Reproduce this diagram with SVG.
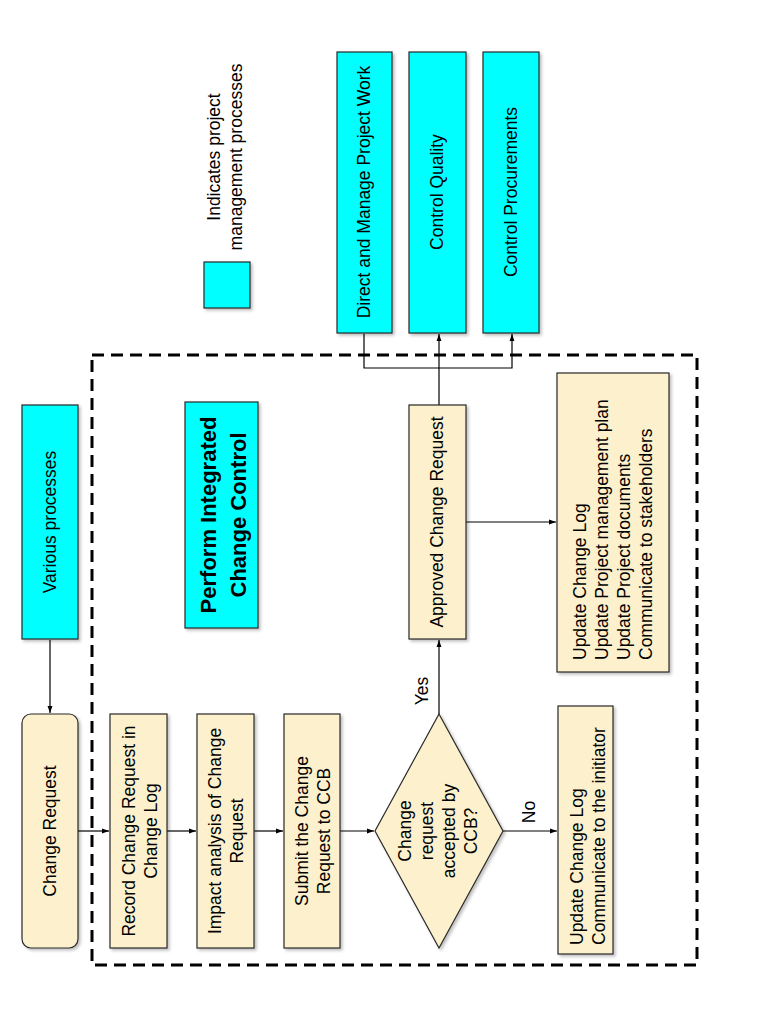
<svg xmlns="http://www.w3.org/2000/svg" width="768" height="1024" viewBox="0 0 768 1024">
<style>
.t{font-family:"Liberation Sans",Arial,sans-serif;font-size:17.5px;fill:#000}
.b{font-family:"Liberation Sans",Arial,sans-serif;font-size:22px;font-weight:bold;fill:#000}
.cream{fill:#FCF0CD;stroke:#2a2a2a;stroke-width:1.2}
.cyan{fill:#00FFFF;stroke:#2a2a2a;stroke-width:1.2}
.ln{fill:none;stroke:#000;stroke-width:1.2}
.border{fill:none;stroke:#000;stroke-width:3;stroke-dasharray:12 7}
</style>
<defs>
<filter id="sh" x="-10%" y="-10%" width="130%" height="130%">
<feDropShadow dx="2" dy="2" stdDeviation="1.5" flood-color="#000" flood-opacity="0.25"/>
</filter>
<marker id="ar" viewBox="0 0 10 10" refX="10" refY="5" markerWidth="7" markerHeight="7" orient="auto" markerUnits="userSpaceOnUse">
<path d="M0,1.5 L10,5 L0,8.5 z" fill="#000"/>
</marker>
</defs>
<rect width="768" height="1024" fill="#fff"/>
<rect class="border" x="92" y="355" width="605" height="610"/>

<g id="connectors">
<line class="ln" x1="50" y1="640" x2="50" y2="713" marker-end="url(#ar)"/>
<line class="ln" x1="78" y1="831" x2="109" y2="831" marker-end="url(#ar)"/>
<line class="ln" x1="167" y1="831" x2="196" y2="831" marker-end="url(#ar)"/>
<line class="ln" x1="254" y1="831" x2="283" y2="831" marker-end="url(#ar)"/>
<line class="ln" x1="340" y1="831" x2="374" y2="831" marker-end="url(#ar)"/>
<line class="ln" x1="503" y1="831" x2="557" y2="831" marker-end="url(#ar)"/>
<line class="ln" x1="439" y1="714" x2="439" y2="640" marker-end="url(#ar)"/>
<line class="ln" x1="466" y1="522" x2="556" y2="522" marker-end="url(#ar)"/>
<line class="ln" x1="439" y1="405" x2="439" y2="334" marker-end="url(#ar)"/>
<polyline class="ln" points="364,334 364,368 512,368 512,334" marker-start="url(#ar)" marker-end="url(#ar)"/>
<text class="t" transform="rotate(-90)" x="-691" y="428" text-anchor="middle">Yes</text>
<text class="t" transform="rotate(-90)" x="-812" y="535" text-anchor="middle">No</text>
</g>

<g id="change-request">
<rect class="cream" x="22" y="714" width="56" height="234" rx="9" filter="url(#sh)"/>
<text class="t" transform="rotate(-90)" x="-831" y="56" text-anchor="middle">Change Request</text>
</g>
<g id="various-processes">
<rect class="cyan" x="22" y="405" width="56" height="234" filter="url(#sh)"/>
<text class="t" transform="rotate(-90)" x="-522" y="56" text-anchor="middle">Various processes</text>
</g>
<g id="record">
<rect class="cream" x="110" y="714" width="57" height="234" filter="url(#sh)"/>
<text class="t" transform="rotate(-90)" text-anchor="middle"><tspan x="-831" y="135">Record Change Request in</tspan><tspan x="-831" y="157">Change Log</tspan></text>
</g>
<g id="impact">
<rect class="cream" x="197" y="714" width="57" height="234" filter="url(#sh)"/>
<text class="t" transform="rotate(-90)" text-anchor="middle"><tspan x="-831" y="221">Impact analysis of Change</tspan><tspan x="-831" y="243">Request</tspan></text>
</g>
<g id="submit">
<rect class="cream" x="284" y="714" width="56" height="234" filter="url(#sh)"/>
<text class="t" transform="rotate(-90)" text-anchor="middle"><tspan x="-831" y="308">Submit the Change</tspan><tspan x="-831" y="330">Request to CCB</tspan></text>
</g>
<g id="decision">
<polygon class="cream" points="439,714 503,831 439,948 375,831" filter="url(#sh)"/>
<text class="t" transform="rotate(-90)" text-anchor="middle"><tspan x="-831" y="411">Change</tspan><tspan x="-831" y="433">request</tspan><tspan x="-831" y="455">accepted by</tspan><tspan x="-831" y="477">CCB?</tspan></text>
</g>
<g id="reject-actions">
<rect class="cream" x="558" y="706" width="55" height="248" filter="url(#sh)"/>
<text class="t" transform="rotate(-90)" text-anchor="start"><tspan x="-945" y="583">Update Change Log</tspan><tspan x="-945" y="605">Communicate to the initiator</tspan></text>
</g>
<g id="approved">
<rect class="cream" x="409" y="405" width="57" height="234" filter="url(#sh)"/>
<text class="t" transform="rotate(-90)" x="-522" y="443" text-anchor="middle">Approved Change Request</text>
</g>
<g id="approve-actions">
<rect class="cream" x="557" y="373" width="112" height="299" filter="url(#sh)"/>
<text class="t" transform="rotate(-90)" text-anchor="start"><tspan x="-660" y="586">Update Change Log</tspan><tspan x="-660" y="608">Update Project management plan</tspan><tspan x="-660" y="630">Update Project documents</tspan><tspan x="-660" y="652">Communicate to stakeholders</tspan></text>
</g>
<g id="title">
<rect class="cyan" x="185" y="402" width="73" height="226" filter="url(#sh)"/>
<text class="b" transform="rotate(-90)" text-anchor="middle"><tspan x="-515" y="216">Perform Integrated</tspan><tspan x="-515" y="246">Change Control</tspan></text>
</g>
<g id="direct-manage">
<rect class="cyan" x="337" y="52" width="55" height="281" filter="url(#sh)"/>
<text class="t" transform="rotate(-90)" x="-192" y="370" text-anchor="middle">Direct and Manage Project Work</text>
</g>
<g id="control-quality">
<rect class="cyan" x="409" y="52" width="57" height="281" filter="url(#sh)"/>
<text class="t" transform="rotate(-90)" x="-192" y="443" text-anchor="middle">Control Quality</text>
</g>
<g id="control-procurements">
<rect class="cyan" x="483" y="52" width="56" height="281" filter="url(#sh)"/>
<text class="t" transform="rotate(-90)" x="-192" y="517" text-anchor="middle">Control Procurements</text>
</g>
<g id="legend">
<rect class="cyan" x="204" y="262" width="46" height="46" filter="url(#sh)"/>
<text class="t" transform="rotate(-90)" text-anchor="middle"><tspan x="-157" y="220">Indicates project</tspan><tspan x="-157" y="242">management processes</tspan></text>
</g>
</svg>
